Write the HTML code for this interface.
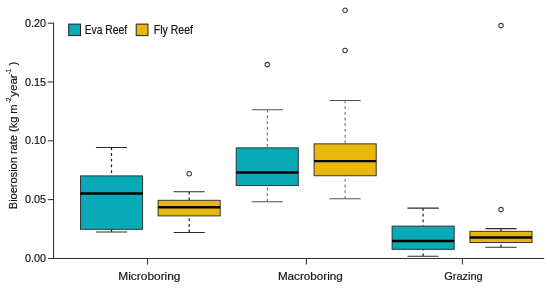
<!DOCTYPE html>
<html lang="en"><head><meta charset="utf-8"><title>Bioerosion rate</title>
<style>html,body{margin:0;padding:0;background:#fff}svg{display:block}text{font-family:"Liberation Sans",sans-serif;fill:#111;stroke:#111;stroke-width:0.18px;paint-order:stroke}</style></head><body>
<svg xmlns="http://www.w3.org/2000/svg" width="550" height="289" viewBox="0 0 550 289">
<rect width="550" height="289" fill="#fff"/>
<g stroke="#303030" stroke-width="1.05" fill="none">
<path d="M53.6 22.7V258.8"/>
<path d="M47.8 258.4H544.2"/>
<path d="M47.8 199.6H53.6"/>
<path d="M47.8 140.8H53.6"/>
<path d="M47.8 82.0H53.6"/>
<path d="M47.8 23.2H53.6"/>
<path d="M147.5 258.4V264.6"/>
<path d="M306.4 258.4V264.6"/>
<path d="M462.4 258.4V264.6"/>
</g>
<text x="25" y="261.9" font-size="10.6" textLength="21" lengthAdjust="spacingAndGlyphs">0.00</text>
<text x="25" y="203.1" font-size="10.6" textLength="21" lengthAdjust="spacingAndGlyphs">0.05</text>
<text x="25" y="144.3" font-size="10.6" textLength="21" lengthAdjust="spacingAndGlyphs">0.10</text>
<text x="25" y="85.5" font-size="10.6" textLength="21" lengthAdjust="spacingAndGlyphs">0.15</text>
<text x="25" y="26.7" font-size="10.6" textLength="21" lengthAdjust="spacingAndGlyphs">0.20</text>
<text x="118.3" y="279.5" font-size="11.5" textLength="62.2" lengthAdjust="spacingAndGlyphs">Microboring</text>
<text x="277.9" y="279.95" font-size="11.5" textLength="64.9" lengthAdjust="spacingAndGlyphs">Macroboring</text>
<text x="444.2" y="280.0" font-size="11.5" textLength="38.5" lengthAdjust="spacingAndGlyphs">Grazing</text>
<rect x="68.7" y="24.1" width="11.8" height="11.5" fill="#07aab6" stroke="#222" stroke-width="1"/>
<text x="84.7" y="33.7" font-size="12" textLength="42.5" lengthAdjust="spacingAndGlyphs">Eva Reef</text>
<rect x="136.2" y="24.1" width="11.8" height="11.5" fill="#e9b708" stroke="#222" stroke-width="1"/>
<text x="153.8" y="33.7" font-size="12" textLength="39.2" lengthAdjust="spacingAndGlyphs">Fly Reef</text>
<g transform="translate(16.75 0) rotate(-90)">
<text x="-209.2" y="0" font-size="11.5" textLength="104.7" lengthAdjust="spacingAndGlyphs">Bioerosion rate (kg m</text>
<text x="-103.0" y="-6.2" font-size="6.6" textLength="5.6" lengthAdjust="spacingAndGlyphs">-2</text>
<text x="-96.9" y="0" font-size="11.5" textLength="22.6" lengthAdjust="spacingAndGlyphs">year</text>
<text x="-74.2" y="-6.2" font-size="6.6" textLength="5.2" lengthAdjust="spacingAndGlyphs">-1</text>
<text x="-65.4" y="0" font-size="11.5" textLength="3.6" lengthAdjust="spacingAndGlyphs">)</text>
</g>
<g>
<path d="M111.5 147.4V175.9" stroke="#222" stroke-width="1.25" stroke-dasharray="2.8 2.9" fill="none"/>
<path d="M111.5 231.9V229.3" stroke="#222" stroke-width="1.25" stroke-dasharray="2.8 2.9" fill="none"/>
<path d="M95.9 147.4H127.1M95.9 231.9H127.1" stroke="#2a2a2a" stroke-width="1.05" fill="none"/>
<rect x="80.5" y="175.9" width="62.1" height="53.4" fill="#07aab6" stroke="#2e2e2e" stroke-width="0.95"/>
<path d="M80.5 193.5H142.6" stroke="#000" stroke-width="2.4" fill="none"/>
</g>
<g>
<path d="M189.2 191.8V200.3" stroke="#222" stroke-width="1.25" stroke-dasharray="2.8 2.9" fill="none"/>
<path d="M189.2 232.4V215.9" stroke="#222" stroke-width="1.25" stroke-dasharray="2.8 2.9" fill="none"/>
<path d="M173.6 191.8H204.8M173.6 232.4H204.8" stroke="#2a2a2a" stroke-width="1.05" fill="none"/>
<rect x="158.1" y="200.3" width="62.1" height="15.6" fill="#e9b708" stroke="#2e2e2e" stroke-width="0.95"/>
<path d="M158.1 207.3H220.2" stroke="#000" stroke-width="2.4" fill="none"/>
<circle cx="189.2" cy="173.7" r="2.25" fill="#fff" stroke="#3c3c3c" stroke-width="1.05"/>
</g>
<g>
<path d="M267.3 109.8V147.85" stroke="#6a6a6a" stroke-width="1.05" stroke-dasharray="2.8 2.9" fill="none"/>
<path d="M267.3 201.8V185.5" stroke="#6a6a6a" stroke-width="1.05" stroke-dasharray="2.8 2.9" fill="none"/>
<path d="M251.7 109.8H282.9M251.7 201.8H282.9" stroke="#555" stroke-width="1.05" fill="none"/>
<rect x="236.2" y="147.85" width="62.1" height="37.7" fill="#07aab6" stroke="#2e2e2e" stroke-width="0.95"/>
<path d="M236.2 172.45H298.4" stroke="#000" stroke-width="2.4" fill="none"/>
<circle cx="267.3" cy="64.6" r="2.25" fill="#fff" stroke="#3c3c3c" stroke-width="1.05"/>
</g>
<g>
<path d="M345.1 100.5V143.85" stroke="#6a6a6a" stroke-width="1.05" stroke-dasharray="2.8 2.9" fill="none"/>
<path d="M345.1 198.8V175.75" stroke="#6a6a6a" stroke-width="1.05" stroke-dasharray="2.8 2.9" fill="none"/>
<path d="M329.5 100.5H360.7M329.5 198.8H360.7" stroke="#555" stroke-width="1.05" fill="none"/>
<rect x="314.1" y="143.85" width="62.1" height="31.9" fill="#e9b708" stroke="#2e2e2e" stroke-width="0.95"/>
<path d="M314.1 161.15H376.2" stroke="#000" stroke-width="2.4" fill="none"/>
<circle cx="345.1" cy="50.5" r="2.25" fill="#fff" stroke="#3c3c3c" stroke-width="1.05"/>
<circle cx="345.1" cy="10.3" r="2.25" fill="#fff" stroke="#3c3c3c" stroke-width="1.05"/>
</g>
<g>
<path d="M423.1 208.1V226.1" stroke="#222" stroke-width="1.25" stroke-dasharray="2.8 2.9" fill="none"/>
<path d="M423.1 256.2V249.3" stroke="#222" stroke-width="1.25" stroke-dasharray="2.8 2.9" fill="none"/>
<path d="M407.5 208.1H438.7M407.5 256.2H438.7" stroke="#2a2a2a" stroke-width="1.05" fill="none"/>
<rect x="392.1" y="226.1" width="62.1" height="23.2" fill="#07aab6" stroke="#2e2e2e" stroke-width="0.95"/>
<path d="M392.1 241.0H454.2" stroke="#000" stroke-width="2.4" fill="none"/>
</g>
<g>
<path d="M501.0 228.6V231.35" stroke="#222" stroke-width="1.25" stroke-dasharray="2.8 2.9" fill="none"/>
<path d="M501.0 247.3V242.55" stroke="#222" stroke-width="1.25" stroke-dasharray="2.8 2.9" fill="none"/>
<path d="M485.4 228.6H516.6M485.4 247.3H516.6" stroke="#2a2a2a" stroke-width="1.05" fill="none"/>
<rect x="469.9" y="231.35" width="62.1" height="11.2" fill="#e9b708" stroke="#2e2e2e" stroke-width="0.95"/>
<path d="M469.9 237.45H532.0" stroke="#000" stroke-width="2.4" fill="none"/>
<circle cx="501.0" cy="209.6" r="2.25" fill="#fff" stroke="#3c3c3c" stroke-width="1.05"/>
<circle cx="501.0" cy="25.6" r="2.25" fill="#fff" stroke="#3c3c3c" stroke-width="1.05"/>
</g>
</svg>
</body></html>
